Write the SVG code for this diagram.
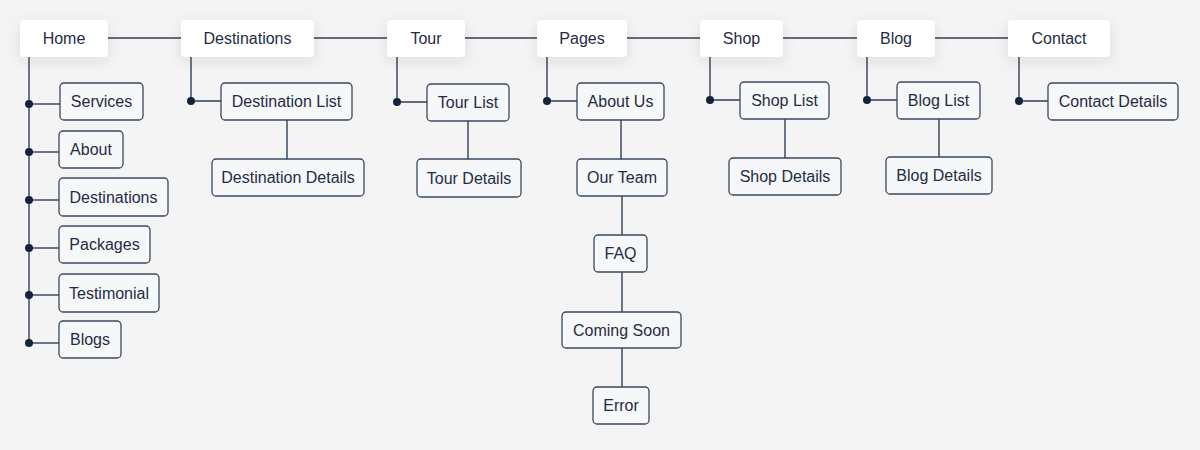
<svg xmlns="http://www.w3.org/2000/svg" width="1200" height="450" viewBox="0 0 1200 450">
<defs>
<filter id="sh" x="-30%" y="-50%" width="160%" height="220%">
<feDropShadow dx="0" dy="4" stdDeviation="7" flood-color="#1e2d40" flood-opacity="0.10"/>
</filter>
<style>
.top{fill:#ffffff;filter:url(#sh);}
.box{fill:#f6f7f9;stroke:#3a4a5e;stroke-width:1.3;}
.t{font-family:"Liberation Sans",Arial,sans-serif;font-size:16px;fill:#1f2d42;text-anchor:middle;dominant-baseline:central;}
.ln{stroke:#2f3f55;stroke-width:1.4;fill:none;}
.dot{fill:#14243a;}
</style>
</defs>
<rect width="1200" height="450" fill="#f4f4f4"/>
<g id="connectors">
<line class="ln" x1="108" y1="38" x2="1008" y2="38"/>
<!-- Home -->
<line class="ln" x1="29" y1="57" x2="29" y2="343" stroke-width="1.8"/>
<line class="ln" x1="29" y1="104" x2="60" y2="104"/><circle class="dot" cx="29" cy="104" r="4"/>
<line class="ln" x1="29" y1="152" x2="59" y2="152"/><circle class="dot" cx="29" cy="152" r="4"/>
<line class="ln" x1="29" y1="200" x2="59" y2="200"/><circle class="dot" cx="29" cy="200" r="4"/>
<line class="ln" x1="29" y1="248" x2="59" y2="248"/><circle class="dot" cx="29" cy="248" r="4"/>
<line class="ln" x1="29" y1="295" x2="59" y2="295"/><circle class="dot" cx="29" cy="295" r="4"/>
<line class="ln" x1="29" y1="343" x2="59" y2="343"/><circle class="dot" cx="29" cy="343" r="4"/>
<!-- Destinations -->
<polyline class="ln" points="191,57 191,101 221,101"/><circle class="dot" cx="191" cy="101" r="4"/>
<line class="ln" x1="287" y1="120" x2="287" y2="159"/>
<!-- Tour -->
<polyline class="ln" points="397,57 397,102 427,102"/><circle class="dot" cx="397" cy="102" r="4"/>
<line class="ln" x1="468" y1="121" x2="468" y2="159"/>
<!-- Pages -->
<polyline class="ln" points="547,57 547,101 577,101"/><circle class="dot" cx="547" cy="101" r="4"/>
<line class="ln" x1="621" y1="120" x2="621" y2="159"/>
<line class="ln" x1="622" y1="196" x2="622" y2="235"/>
<line class="ln" x1="622" y1="272" x2="622" y2="312"/>
<line class="ln" x1="622" y1="348" x2="622" y2="387"/>
<!-- Shop -->
<polyline class="ln" points="710,57 710,100 740,100"/><circle class="dot" cx="710" cy="100" r="4"/>
<line class="ln" x1="785" y1="119" x2="785" y2="158"/>
<!-- Blog -->
<polyline class="ln" points="867,57 867,100 897,100"/><circle class="dot" cx="867" cy="100" r="4"/>
<line class="ln" x1="939" y1="119" x2="939" y2="157"/>
<!-- Contact -->
<polyline class="ln" points="1019,57 1019,101 1048,101"/><circle class="dot" cx="1019" cy="101" r="4"/>
</g>
<g id="home"><rect class="top" x="20" y="20" width="88" height="37" rx="4"/><text class="t" x="64" y="38.5">Home</text></g>
<g id="destinations"><rect class="top" x="181" y="20" width="133" height="37" rx="4"/><text class="t" x="247.5" y="38.5">Destinations</text></g>
<g id="tour"><rect class="top" x="387" y="20" width="78" height="37" rx="4"/><text class="t" x="426" y="38.5">Tour</text></g>
<g id="pages"><rect class="top" x="537" y="20" width="90" height="37" rx="4"/><text class="t" x="582" y="38.5">Pages</text></g>
<g id="shop"><rect class="top" x="700" y="20" width="83" height="37" rx="4"/><text class="t" x="741.5" y="38.5">Shop</text></g>
<g id="blog"><rect class="top" x="857" y="20" width="78" height="37" rx="4"/><text class="t" x="896" y="38.5">Blog</text></g>
<g id="contact"><rect class="top" x="1008" y="20" width="102" height="37" rx="4"/><text class="t" x="1059" y="38.5">Contact</text></g>

<g id="services"><rect class="box" x="60" y="83" width="83" height="37" rx="4"/><text class="t" x="101.5" y="101.5">Services</text></g>
<g id="about"><rect class="box" x="59" y="131" width="64" height="37" rx="4"/><text class="t" x="91" y="149.5">About</text></g>
<g id="destinations2"><rect class="box" x="59" y="178" width="109" height="38" rx="4"/><text class="t" x="113.5" y="197">Destinations</text></g>
<g id="packages"><rect class="box" x="59" y="226" width="91" height="37" rx="4"/><text class="t" x="104.5" y="244.5">Packages</text></g>
<g id="testimonial"><rect class="box" x="59" y="274" width="100" height="38" rx="4"/><text class="t" x="109" y="293">Testimonial</text></g>
<g id="blogs"><rect class="box" x="59" y="321" width="62" height="37" rx="4"/><text class="t" x="90" y="339.5">Blogs</text></g>

<g id="destination-list"><rect class="box" x="221" y="83" width="131" height="37" rx="4"/><text class="t" x="286.5" y="101.5">Destination List</text></g>
<g id="destination-details"><rect class="box" x="212" y="159" width="152" height="37" rx="4"/><text class="t" x="288" y="177.5">Destination Details</text></g>
<g id="tour-list"><rect class="box" x="427" y="84" width="82" height="37" rx="4"/><text class="t" x="468" y="102.5">Tour List</text></g>
<g id="tour-details"><rect class="box" x="417" y="159" width="104" height="38" rx="4"/><text class="t" x="469" y="178">Tour Details</text></g>
<g id="about-us"><rect class="box" x="577" y="83" width="87" height="37" rx="4"/><text class="t" x="620.5" y="101.5">About Us</text></g>
<g id="our-team"><rect class="box" x="577" y="159" width="90" height="37" rx="4"/><text class="t" x="622" y="177.5">Our Team</text></g>
<g id="faq"><rect class="box" x="594" y="235" width="53" height="37" rx="4"/><text class="t" x="620.5" y="253.5">FAQ</text></g>
<g id="coming-soon"><rect class="box" x="562" y="312" width="119" height="36" rx="4"/><text class="t" x="621.5" y="330">Coming Soon</text></g>
<g id="error"><rect class="box" x="593" y="387" width="56" height="37" rx="4"/><text class="t" x="621" y="405.5">Error</text></g>
<g id="shop-list"><rect class="box" x="740" y="82" width="89" height="37" rx="4"/><text class="t" x="784.5" y="100.5">Shop List</text></g>
<g id="shop-details"><rect class="box" x="729" y="158" width="112" height="37" rx="4"/><text class="t" x="785" y="176.5">Shop Details</text></g>
<g id="blog-list"><rect class="box" x="897" y="82" width="83" height="37" rx="4"/><text class="t" x="938.5" y="100.5">Blog List</text></g>
<g id="blog-details"><rect class="box" x="886" y="157" width="106" height="37" rx="4"/><text class="t" x="939" y="175.5">Blog Details</text></g>
<g id="contact-details"><rect class="box" x="1048" y="83" width="130" height="37" rx="4"/><text class="t" x="1113" y="101.5">Contact Details</text></g>
</svg>
